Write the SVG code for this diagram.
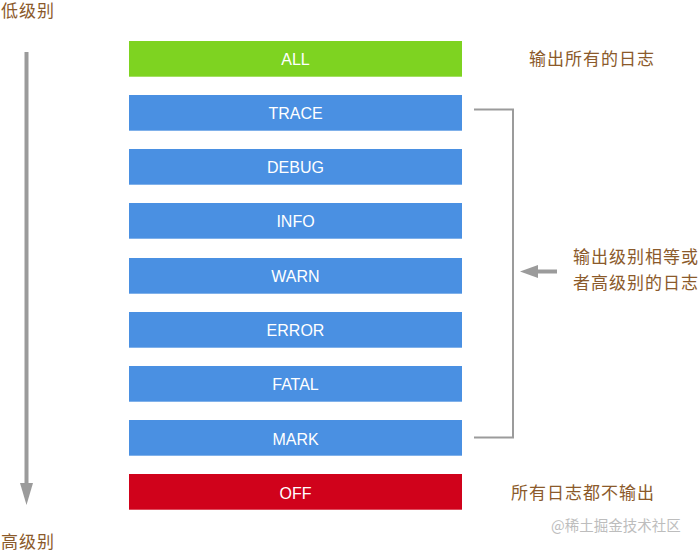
<svg xmlns="http://www.w3.org/2000/svg" width="699" height="551" viewBox="0 0 699 551">
<style>
.lv{fill:#4A90E2}
.lt{font-family:"Liberation Sans",Arial,sans-serif;font-size:16px;fill:#fff;text-anchor:middle;dominant-baseline:central}
.cn{font-family:"Noto Sans CJK SC","Liberation Sans",sans-serif;font-size:17px;letter-spacing:1px;fill:#8B5A2B}
.ln{stroke:#9B9B9B;fill:none}
</style>
<rect width="699" height="551" fill="#fff"/>
<g id="axis">
<line class="ln" x1="26.5" y1="52" x2="26.5" y2="486" stroke-width="4"/>
<polygon points="20,483 33,483 26.5,505" fill="#9B9B9B"/>
</g>
<g id="ALL"><rect x="129" y="41" width="333" height="35.7" fill="#7ED321"/><text class="lt" x="295.5" y="59">ALL</text></g>
<g id="TRACE"><rect class="lv" x="129" y="95" width="333" height="35.7"/><text class="lt" x="295.5" y="113.5">TRACE</text></g>
<g id="DEBUG"><rect class="lv" x="129" y="149" width="333" height="35.7"/><text class="lt" x="295.5" y="167.5">DEBUG</text></g>
<g id="INFO"><rect class="lv" x="129" y="203" width="333" height="35.7"/><text class="lt" x="295.5" y="221.5">INFO</text></g>
<g id="WARN"><rect class="lv" x="129" y="258" width="333" height="35.7"/><text class="lt" x="295.5" y="276.5">WARN</text></g>
<g id="ERROR"><rect class="lv" x="129" y="312" width="333" height="35.7"/><text class="lt" x="295.5" y="330.5">ERROR</text></g>
<g id="FATAL"><rect class="lv" x="129" y="366" width="333" height="35.7"/><text class="lt" x="295.5" y="384.5">FATAL</text></g>
<g id="MARK"><rect class="lv" x="129" y="420" width="333" height="35.7"/><text class="lt" x="295.5" y="439">MARK</text></g>
<g id="OFF"><rect x="129" y="474" width="333" height="35.7" fill="#D0021B"/><text class="lt" x="295.5" y="493">OFF</text></g>
<g id="connectors">
<polyline class="ln" points="474,109.5 513,109.5 513,437.5 474,437.5" stroke-width="2"/>
<line class="ln" x1="557" y1="271.5" x2="535" y2="271.5" stroke-width="4"/>
<polygon points="520,271.5 538,265 538,278" fill="#9B9B9B"/>
</g>
<g id="labels">
<text class="cn" x="1" y="17">低级别</text>
<text class="cn" x="1" y="548">高级别</text>
<text class="cn" x="529" y="65">输出所有的日志</text>
<text class="cn" x="573" y="263">输出级别相等或</text>
<text class="cn" x="573" y="289">者高级别的日志</text>
<text class="cn" x="511" y="499">所有日志都不输出</text>
<text x="551" y="531" font-family="'Noto Sans CJK SC',sans-serif" font-size="14.5" fill="#BDBDBD">@稀土掘金技术社区</text>
</g>
</svg>
